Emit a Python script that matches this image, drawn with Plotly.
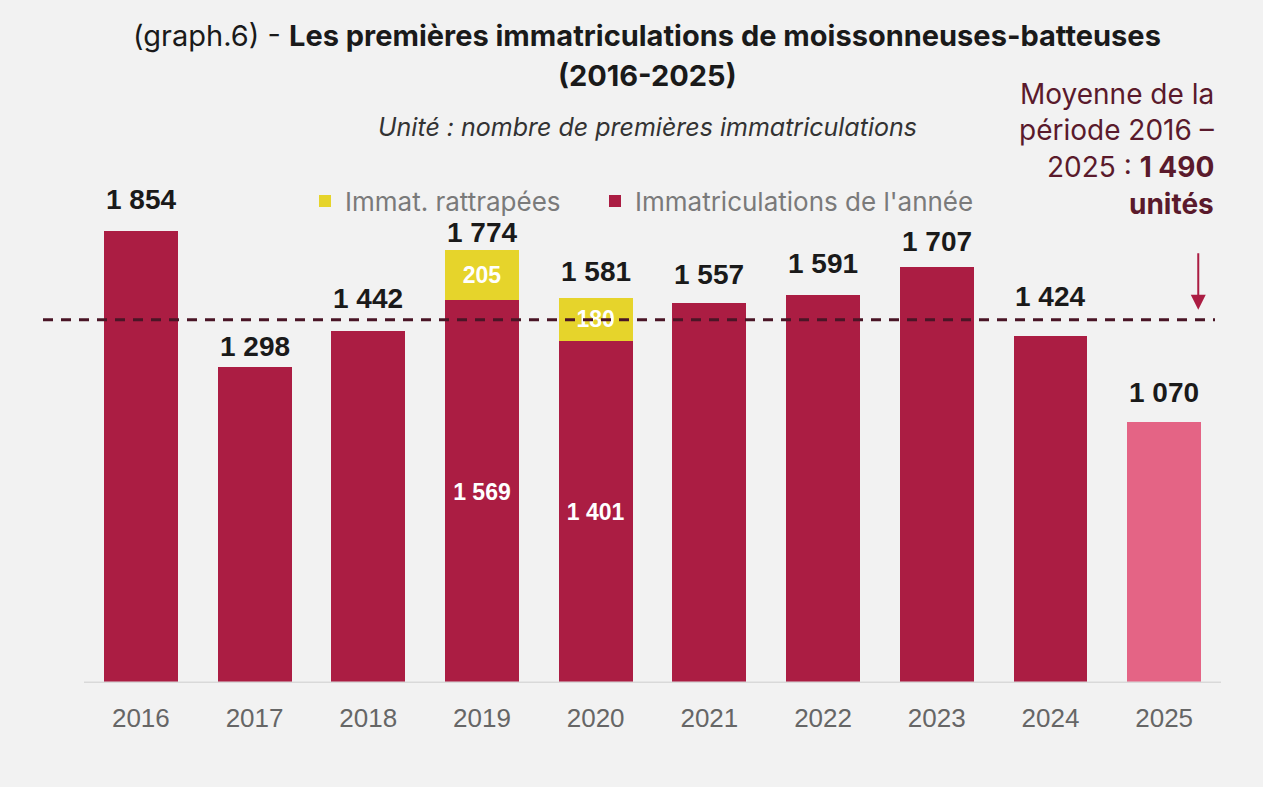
import plotly.graph_objects as go

# ---- data ----
YEARS = ["2016", "2017", "2018", "2019", "2020", "2021", "2022", "2023", "2024", "2025"]
YEAR_REGS = [1854, 1298, 1442, 1569, 1401, 1557, 1591, 1707, 1424, 1070]   # Immatriculations de l'année
CATCHUP = [0, 0, 0, 205, 180, 0, 0, 0, 0, 0]                                 # Immat. rattrapées
MEAN = 1490
SERIES_NAMES = ["Immatriculations de l'année", "Immat. rattrapées"]

# ---- styles ----
BG = "#f2f2f2"
RED = "#ab1d43"
PINK = "#e46485"
YELLOW = "#e6d42b"
MAROON = "#5a1a2c"
NUMFONT = "Liberation Sans, Arial, sans-serif"
TXTFONT = "Inter, Open Sans, sans-serif"
LABEL_YSHIFT = [14, 3, 15, 0, 9, 11, 14, 8, 22, 12]   # hand placement of total labels (px)

W, H = 1263, 787
ML, MR, MT, MB = 84, 42, 150, 104
PH = H - MT - MB
PW = W - ML - MR
YMAX = 2186


def fmt(v):
    return f"{v:,}".replace(",", " ")


def py(pix):
    """pixel y (from top) -> paper y"""
    return (H - MB - pix) / PH


def px(pix):
    """pixel x (from left) -> paper x"""
    return (pix - ML) / PW


idx = list(range(len(YEARS)))
totals = [a + b for a, b in zip(YEAR_REGS, CATCHUP)]
bar_colors = [RED] * (len(YEARS) - 1) + [PINK]
inner_text = [fmt(v) if c > 0 else "" for v, c in zip(YEAR_REGS, CATCHUP)]
catch_text = [fmt(c) if c > 0 else "" for c in CATCHUP]

fig = go.Figure()
fig.add_trace(go.Bar(
    x=idx, y=YEAR_REGS, name=SERIES_NAMES[0], legend="legend2",
    marker=dict(color=bar_colors, line=dict(width=0)),
    text=inner_text, textposition="inside", insidetextanchor="middle",
    textfont=dict(family=NUMFONT, size=23, color="white", weight="bold"),
    textangle=0, hoverinfo="skip",
))
fig.add_trace(go.Bar(
    x=idx, y=CATCHUP, name=SERIES_NAMES[1], legend="legend",
    marker=dict(color=YELLOW, line=dict(width=0)),
    text=catch_text, textposition="inside", insidetextanchor="middle",
    textfont=dict(family=NUMFONT, size=23, color="white", weight="bold"),
    textangle=0, hoverinfo="skip",
))

annotations = []
# totals above bars
for i, t, ys in zip(idx, totals, LABEL_YSHIFT):
    annotations.append(dict(
        x=i, y=t, xref="x", yref="y", text=f"<b>{fmt(t)}</b>", showarrow=False,
        yanchor="bottom", yshift=ys, font=dict(family=NUMFONT, size=28, color="#1a1a1a"),
    ))

# title (pixel positions converted below)
annotations.append(dict(
    x=647, y=36, xref="paper", yref="paper", showarrow=False,
    text="(graph.6) - <b>Les premières immatriculations de moissonneuses-batteuses</b>",
    font=dict(family=TXTFONT, size=29, color="#1a1a1a"), xanchor="center", yanchor="middle",
))
annotations.append(dict(
    x=647, y=75, xref="paper", yref="paper", showarrow=False,
    text="<b>(2016-2025)</b>",
    font=dict(family=TXTFONT, size=29, color="#1a1a1a"), xanchor="center", yanchor="middle",
))
annotations.append(dict(
    x=647, y=127, xref="paper", yref="paper", showarrow=False,
    text="<i>Unité : nombre de premières immatriculations</i>",
    font=dict(family=TXTFONT, size=25, color="#333333"), xanchor="center", yanchor="middle",
))

# mean text
mean_lines = [
    "Moyenne de la",
    "période 2016 –",
    f"2025 : <b>{fmt(MEAN)}</b>",
    "<b>unités</b>",
]
for i, line in enumerate(mean_lines):
    annotations.append(dict(
        x=1216, y=94 + 36.5 * i, xref="paper", yref="paper", showarrow=False,
        text=line, font=dict(family=TXTFONT, size=28, color=MAROON),
        xanchor="right", yanchor="middle",
    ))

for a in annotations:
    if a.get("xref") == "paper":
        a["x"] = px(a["x"])
        a["y"] = py(a["y"])

# arrow pointing to mean line
annotations.append(dict(
    x=9.3, y=MEAN, xref="x", yref="y", showarrow=True, text="",
    arrowhead=2, arrowsize=1.5, arrowwidth=2, arrowcolor=RED,
    ax=0, ay=-68, standoff=10,
))

legend_common = dict(
    orientation="h", yanchor="middle", y=py(201), xanchor="left",
    font=dict(family=TXTFONT, size=26, color="#7a7a7a"),
    bgcolor="rgba(0,0,0,0)", itemclick=False, itemdoubleclick=False,
)

fig.update_layout(
    width=W, height=H,
    margin=dict(l=ML, r=MR, t=MT, b=MB),
    paper_bgcolor=BG, plot_bgcolor=BG,
    barmode="stack", bargap=0.35,
    showlegend=True,
    legend=dict(x=px(305), **legend_common),
    legend2=dict(x=px(595), **legend_common),
    xaxis=dict(
        range=[-0.5, len(YEARS) - 0.5], tickmode="array", tickvals=idx, ticktext=YEARS,
        showgrid=False, zeroline=False, showline=False,
        ticks="outside", ticklen=12, tickcolor="rgba(0,0,0,0)",
        tickfont=dict(family=NUMFONT, size=26, color="#666666"),
        fixedrange=True,
    ),
    yaxis=dict(range=[0, YMAX], visible=False, fixedrange=True),
    annotations=annotations,
    uniformtext=dict(mode="show", minsize=10),
    shapes=[
        dict(type="line", xref="paper", yref="y", x0=0, x1=1, y0=0, y1=0,
             line=dict(color="#d9d9d9", width=3), layer="above"),
        dict(type="line", xref="paper", yref="y", x0=px(43), x1=px(1215), y0=MEAN, y1=MEAN,
             line=dict(color="#4a1526", width=3, dash="10px,8px"), layer="above"),
    ],
)

fig.write_html("out.html", config={"displayModeBar": False})
